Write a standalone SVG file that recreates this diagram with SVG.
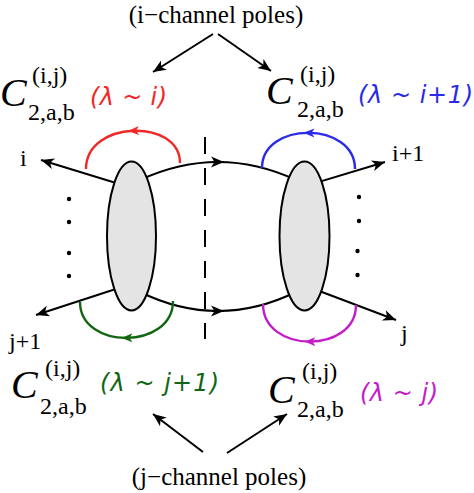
<svg xmlns="http://www.w3.org/2000/svg" width="474" height="493" viewBox="0 0 474 493">
<style>
.ser{font-family:"Liberation Serif","Times New Roman",serif;fill:#000}
.big{font-size:40px;font-style:italic}
.sc{font-size:24px}
.lam{font-family:"DejaVu Sans","Verdana",sans-serif;font-style:italic;font-size:24px}
.ln{fill:none;stroke:#000;stroke-width:2}
.arc{fill:none;stroke-width:2.4}
.blob{fill:#e4e4e4;stroke:#000;stroke-width:2}
</style>
<defs>
<marker id="ak" markerUnits="userSpaceOnUse" viewBox="-14 -7 15 14" refX="0" refY="0" markerWidth="15" markerHeight="14" orient="auto"><path d="M0,0 L-13,-5.5 L-9.5,0 L-13,5.5 Z" fill="#000"/></marker>
<marker id="ar" markerUnits="userSpaceOnUse" viewBox="-6 -6 12 12" refX="0" refY="0" markerWidth="12" markerHeight="12" orient="auto"><path d="M5,0 L-6,-4.5 L-3,0 L-6,4.5 Z" fill="#f02828"/></marker>
<marker id="ab" markerUnits="userSpaceOnUse" viewBox="-6 -6 12 12" refX="0" refY="0" markerWidth="12" markerHeight="12" orient="auto"><path d="M5,0 L-6,-4.5 L-3,0 L-6,4.5 Z" fill="#2a2ae8"/></marker>
<marker id="ag" markerUnits="userSpaceOnUse" viewBox="-6 -6 12 12" refX="0" refY="0" markerWidth="12" markerHeight="12" orient="auto"><path d="M5,0 L-6,-4.5 L-3,0 L-6,4.5 Z" fill="#126612"/></marker>
<marker id="am" markerUnits="userSpaceOnUse" viewBox="-6 -6 12 12" refX="0" refY="0" markerWidth="12" markerHeight="12" orient="auto"><path d="M5,0 L-6,-4.5 L-3,0 L-6,4.5 Z" fill="#c41cc8"/></marker>
</defs>

<g id="connectors">
  <path class="ln" d="M213,34 L153,72" marker-end="url(#ak)"/>
  <path class="ln" d="M218,34 L271,71" marker-end="url(#ak)"/>
  <path class="ln" d="M203,452 L153,414" marker-end="url(#ak)"/>
  <path class="ln" d="M227,453 L287,414" marker-end="url(#ak)"/>
  <path class="ln" d="M125,185.7 L41,160" marker-end="url(#ak)"/>
  <path class="ln" d="M310,184.6 L385,162" marker-end="url(#ak)"/>
  <path class="ln" d="M125,286 L36,315" marker-end="url(#ak)"/>
  <path class="ln" d="M310,287.5 L396,320" marker-end="url(#ak)"/>
  <path class="ln" d="M140,180 Q218,144 296,180"/>
  <path class="ln" d="M212,161.9 L224,162.1" marker-end="url(#ak)"/>
  <path class="ln" d="M140,292 Q218,330 296,292"/>
  <path class="ln" d="M212,311 L224,311" marker-end="url(#ak)"/>
  <path d="M205,137 L205,339" fill="none" stroke="#000" stroke-width="2" stroke-dasharray="17,14"/>
  <path class="arc" stroke="#f02828" d="M180,163 C180,140.5 156.5,129.75 133,130.75 C109.5,131.75 86,144.5 86,169" marker-mid="url(#ar)"/>
  <path class="arc" stroke="#2a2ae8" d="M355,169 C355,145 331.75,133 308.5,132.9 C285.25,132.75 262,144.5 262,168" marker-mid="url(#ab)"/>
  <path class="arc" stroke="#126612" d="M173,301 C173,325.5 149.75,337.75 126.5,337.9 C103.25,338 80,326 80,302" marker-mid="url(#ag)"/>
  <path class="arc" stroke="#c41cc8" d="M356,305 C356,329.5 332.75,341.75 309.5,341.6 C286.25,341.5 263,329 263,304" marker-mid="url(#am)"/>
</g>

<g id="blob-left"><ellipse class="blob" cx="131.5" cy="236" rx="24.5" ry="74.5"/></g>
<g id="blob-right"><ellipse class="blob" cx="304.5" cy="236" rx="25" ry="74.5"/></g>

<g id="dots-left" fill="#000">
  <circle cx="69" cy="199" r="2.2"/><circle cx="69" cy="222" r="2.2"/>
  <circle cx="69" cy="253" r="2.2"/><circle cx="69" cy="276" r="2.2"/>
</g>
<g id="dots-right" fill="#000">
  <circle cx="359" cy="197" r="2.2"/><circle cx="359" cy="221" r="2.2"/>
  <circle cx="357.5" cy="251" r="2.2"/><circle cx="357.5" cy="275" r="2.2"/>
</g>

<g id="label-i-channel"><text class="ser" x="216" y="23" font-size="25" text-anchor="middle">(i−channel poles)</text></g>
<g id="label-j-channel"><text class="ser" x="219" y="485" font-size="25" text-anchor="middle">(j−channel poles)</text></g>

<g id="leg-labels">
  <text class="ser sc" x="20" y="166">i</text>
  <text class="ser sc" x="392" y="161">i+1</text>
  <text class="ser sc" x="9" y="349">j+1</text>
  <text class="ser sc" x="401" y="341">j</text>
</g>

<g id="coef-top-left">
  <text class="ser big" x="0" y="106">C</text>
  <text class="ser sc" x="32" y="83">(i,j)</text>
  <text class="ser sc" x="28" y="120">2,a,b</text>
  <text class="lam" x="90" y="105" fill="#f02828" textLength="77" lengthAdjust="spacing">(λ ~ i)</text>
</g>
<g id="coef-top-right">
  <text class="ser big" x="266" y="104">C</text>
  <text class="ser sc" x="300" y="82">(i,j)</text>
  <text class="ser sc" x="297" y="117">2,a,b</text>
  <text class="lam" x="358" y="103" fill="#2a2ae8" textLength="115" lengthAdjust="spacing">(λ ~ i+1)</text>
</g>
<g id="coef-bottom-left">
  <text class="ser big" x="11" y="398">C</text>
  <text class="ser sc" x="45" y="376">(i,j)</text>
  <text class="ser sc" x="40" y="414">2,a,b</text>
  <text class="lam" x="100" y="391" fill="#126612" textLength="119" lengthAdjust="spacing">(λ ~ j+1)</text>
</g>
<g id="coef-bottom-right">
  <text class="ser big" x="268" y="403">C</text>
  <text class="ser sc" x="302" y="379">(i,j)</text>
  <text class="ser sc" x="297" y="417">2,a,b</text>
  <text class="lam" x="360" y="401" fill="#c41cc8" textLength="78" lengthAdjust="spacing">(λ ~ j)</text>
</g>
</svg>
